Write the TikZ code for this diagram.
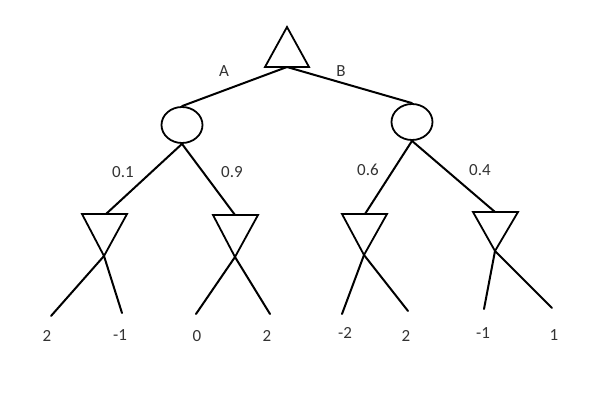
\documentclass[tikz,border=0pt]{standalone}
\usepackage{fontspec}
\setmainfont{Carlito}
\usetikzlibrary{shapes.geometric}
\definecolor{txt}{HTML}{333333}
\begin{document}
\begin{tikzpicture}[x=1pt,y=-1pt,
  edge/.style={line width=2pt,line cap=round},
  shapeline/.style={line width=1.8pt,line join=miter},
  chance/.style={ellipse,draw,line width=1.8pt,minimum width=41pt,minimum height=36pt,inner sep=0pt},
  lbl/.style={text=txt,font=\fontsize{17}{17}\selectfont,inner sep=0pt}]
\useasboundingbox (0,0) rectangle (600,419);
% max node (top triangle)
\draw[shapeline] (265,67) -- (287,27) -- (309,67) -- cycle;
\coordinate (root) at (287,67);
% chance nodes
\node[chance] (cA) at (182,125) {};
\node[chance] (cB) at (412,122) {};
% min nodes
\draw[shapeline] (82,214) -- (127,214) -- (104,256) -- cycle;
\coordinate (m1) at (106,214); \coordinate (m1a) at (104,256);
\draw[shapeline] (213,215) -- (258,215) -- (235,257) -- cycle;
\coordinate (m2) at (235,215); \coordinate (m2a) at (235,257);
\draw[shapeline] (342,214) -- (387,214) -- (364,255) -- cycle;
\coordinate (m3) at (365,214); \coordinate (m3a) at (364,255);
\draw[shapeline] (473,212) -- (518,212) -- (495,251) -- cycle;
\coordinate (m4) at (495,212); \coordinate (m4a) at (495,251);
% leaf ends
\coordinate (l1) at (51,316); \coordinate (l2) at (122,313);
\coordinate (l3) at (196,314); \coordinate (l4) at (270,314);
\coordinate (l5) at (342,314); \coordinate (l6) at (408,311);
\coordinate (l7) at (484,309); \coordinate (l8) at (552,308);
% connectors
\draw[edge] (root) -- (cA.north);
\draw[edge] (root) -- (cB.north);
\draw[edge] (cA.south) -- (m1);
\draw[edge] (cA.south) -- (m2);
\draw[edge] (cB.south) -- (m3);
\draw[edge] (cB.south) -- (m4);
\draw[edge] (m1a) -- (l1); \draw[edge] (m1a) -- (l2);
\draw[edge] (m2a) -- (l3); \draw[edge] (m2a) -- (l4);
\draw[edge] (m3a) -- (l5); \draw[edge] (m3a) -- (l6);
\draw[edge] (m4a) -- (l7); \draw[edge] (m4a) -- (l8);
% edge labels
\node[lbl] (tA) at (224,71) {A};
\node[lbl] (tB) at (341,71) {B};
\node[lbl] (p1) at (123,172) {0.1};
\node[lbl] (p2) at (232,172) {0.9};
\node[lbl] (p3) at (368,170) {0.6};
\node[lbl] (p4) at (480,170.5) {0.4};
% leaf labels
\node[lbl] (v1) at (47,336) {2};
\node[lbl] (v2) at (120,335) {-1};
\node[lbl] (v3) at (197,336) {0};
\node[lbl] (v4) at (267,336) {2};
\node[lbl] (v5) at (345,333) {-2};
\node[lbl] (v6) at (406,336) {2};
\node[lbl] (v7) at (483,333) {-1};
\node[lbl] (v8) at (554,335) {1};
\end{tikzpicture}
\end{document}
